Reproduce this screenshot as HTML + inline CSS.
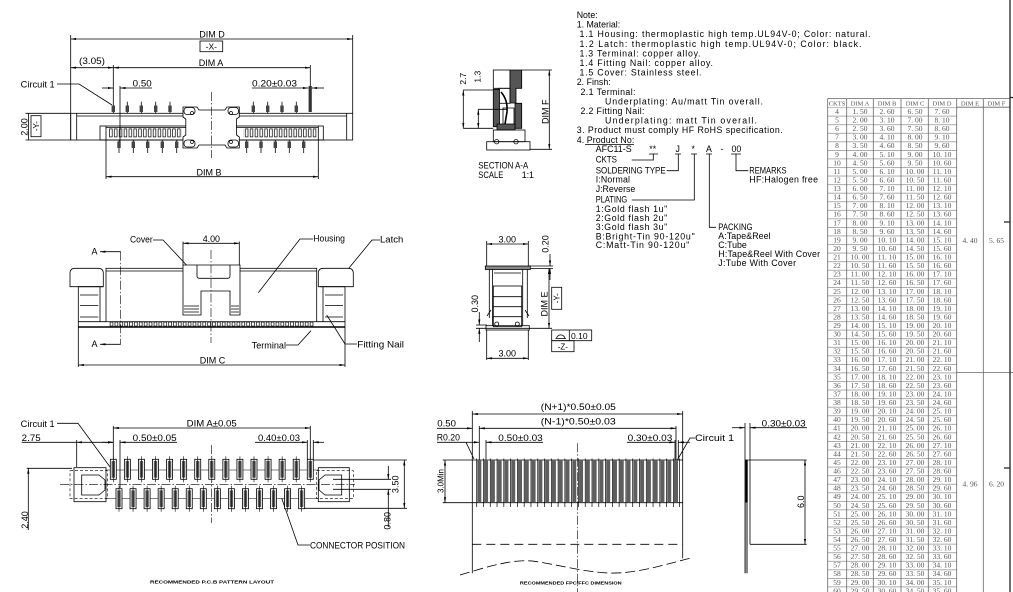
<!DOCTYPE html>
<html><head><meta charset="utf-8">
<style>
html,body{margin:0;padding:0;background:#fff;width:1013px;height:592px;overflow:hidden}
svg{display:block}
text{font-family:"Liberation Sans",Arial,sans-serif;fill:#000;stroke:none}
.l{font-size:9px}
.n{font-size:8.8px}
.m{text-anchor:middle}
.tb text{font-family:"Liberation Serif",serif;font-size:7.5px;fill:#555;text-anchor:middle}
.th text{font-size:6.5px}
.s{font-size:4.6px;font-weight:bold;text-anchor:middle}
</style></head><body>
<svg xmlns="http://www.w3.org/2000/svg" xmlns:xlink="http://www.w3.org/1999/xlink" width="1013" height="592" viewBox="0 0 1013 592">
<defs>
<marker id="a" viewBox="0 0 10 4" refX="10" refY="2" markerWidth="5.5" markerHeight="2.2" markerUnits="userSpaceOnUse" orient="auto-start-reverse"><path d="M0,0L10,2L0,4Z" fill="#000"/></marker>
<pattern id="hl" patternUnits="userSpaceOnUse" x="0" y="107.2" width="10" height="8.56"><rect x="0" y="0" width="10" height="0.7" fill="#8a8a8a"/></pattern>
<pattern id="c1" patternUnits="userSpaceOnUse" x="109" y="128.5" width="4.85" height="20"><rect x="0.6" y="0.4" width="2.6" height="8" fill="none" stroke="#000" stroke-width=".7"/></pattern>
<pattern id="c2" patternUnits="userSpaceOnUse" x="109.5" y="321.7" width="4.88" height="20"><rect x="0.6" y="0.4" width="2.8" height="4" fill="none" stroke="#000" stroke-width=".7"/></pattern>
<g id="pt"><line x1="0" y1="0" x2="0" y2="11.6" stroke="#000" stroke-width=".8"/><rect x="-1.7" y="3.8" width="3.4" height="6.5" fill="#444"/></g>
<g id="pb"><line x1="0" y1="0" x2="0" y2="13" stroke="#000" stroke-width=".8"/><rect x="-1.7" y="1.5" width="3.4" height="6.5" fill="#444"/></g>
<g id="pd"><rect x="-3" y="0" width="6" height="20" fill="#fff" stroke="#000" stroke-width=".8"/><rect x="-1.7" y="1.6" width="3.4" height="16.8" fill="#5a5a5a"/><line x1="0" y1="-3" x2="0" y2="23" stroke="#000" stroke-width=".6"/></g>
<g id="fs"><rect x="-2" y="0" width="4" height="42.7" fill="#5e5e5e"/><line x1="-2.6" y1="-1.5" x2="-2.6" y2="47" stroke="#000" stroke-width=".7"/></g>
</defs>

<g fill="none" stroke="#000" stroke-width=".8">
<!-- ===== VIEW 1 (top-left) ===== -->
<line x1="70.7" y1="39" x2="352.7" y2="39" marker-start="url(#a)" marker-end="url(#a)"/>
<path d="M70.7,35V140M352.7,35V113.3M113.3,65V102M310.3,65V86M57,84H79L112,105M120,86V147M106,140V179M318.3,140V179M25.5,113.3H70.7M25.5,140H70.7"/>
<rect x="200" y="41" width="22.7" height="10.7"/>
<line x1="70.7" y1="67.7" x2="113.3" y2="67.7" marker-start="url(#a)" marker-end="url(#a)"/>
<line x1="113.3" y1="67.7" x2="310.3" y2="67.7" marker-start="url(#a)" marker-end="url(#a)"/>
<line x1="102" y1="88" x2="113.3" y2="88" marker-end="url(#a)"/>
<line x1="152" y1="88" x2="120" y2="88" marker-end="url(#a)"/>
<line x1="252" y1="88" x2="308.3" y2="88" marker-end="url(#a)"/>
<line x1="324" y1="88" x2="311.7" y2="88" marker-end="url(#a)"/>
<line x1="106" y1="176.7" x2="318.3" y2="176.7" marker-start="url(#a)" marker-end="url(#a)"/>
<line x1="28.5" y1="113.3" x2="28.5" y2="140"/>
<rect x="31" y="115.7" width="10" height="21"/>
<rect x="70.7" y="113.3" width="282" height="26.7"/>
<path d="M76.7,113.3V140M346.7,113.3V140M76.7,116H346.7"/>
<rect x="100" y="126" width="223.3" height="14"/>
<path d="M106,127.6H318.3M106,126V140M318.3,126V140"/>
<rect x="109" y="128.5" width="73" height="9" fill="url(#c1)" stroke="none"/>
<rect x="243.5" y="128.5" width="73" height="9" fill="url(#c1)" stroke="none"/>
<path d="M183,107H197L199,110H225L227,107H239.3V117L236.5,119V135L239.3,137V148H227L225,145H199L197,148H183V137L185.8,135V119L183,117Z" fill="#fff"/>
<rect x="184" y="107.5" width="11" height="7" rx="3"/><rect x="228" y="107.5" width="10.5" height="7" rx="3"/>
<rect x="184" y="140" width="11" height="7" rx="3"/><rect x="228" y="140" width="10.5" height="7" rx="3"/>
<line x1="211.7" y1="92" x2="211.7" y2="158" stroke-dasharray="9 2 1.5 2" stroke-width=".6"/>
<rect x="308.6" y="86" width="3.2" height="26" fill="#333" stroke="none"/>

<!-- ===== VIEW 2 (middle-left) ===== -->
<path d="M153,240H163L203,282.7M313,239H300L258.3,292.7M380,240H372L343.3,275M286,345H298L311,330.7M357,344H345L326.7,315"/>
<line x1="183" y1="243.3" x2="239.3" y2="243.3" marker-start="url(#a)" marker-end="url(#a)"/>
<path d="M183,241.5V265M239.3,241.5V265"/>
<line x1="120.7" y1="251.7" x2="100" y2="251.7" marker-end="url(#a)"/>
<line x1="120.7" y1="344.3" x2="100" y2="344.3" marker-end="url(#a)"/>
<line x1="120.7" y1="251.7" x2="120.7" y2="344.3" stroke-dasharray="9 2 1.5 2" stroke-width=".6"/>
<rect x="106" y="268.3" width="210.7" height="53.4"/>
<path d="M106,271H316.7"/>
<path d="M70,286.7V273.3Q70,268.3 75,268.3H98.3Q103.3,268.3 103.3,273.3V286.7Z" fill="#fff"/>
<path d="M78.3,286.7V321.7H106M78.3,286.7H103.3M80,295H98.3M80,305.5H98.3M80,317H98.3M100,286.7V321.7"/>
<path d="M318.3,286.7V273.3Q318.3,268.3 323.3,268.3H348.3Q353.3,268.3 353.3,273.3V286.7Z" fill="#fff"/>
<path d="M345,286.7V321.7H316.7M320,286.7H345M325,295H343M325,305.5H343M325,317H343M323,286.7V321.7"/>
<path d="M183,265H240V315H230V291H201V315H183Z" fill="#fff"/>
<path d="M197,265V276Q197,278.3 199.5,278.3H227.5Q230,278.3 230,276V265M184,306H199M184,309H199M184,312H199M231,306H239M231,309H239M231,312H239"/>
<rect x="109.5" y="321.7" width="205" height="5" fill="url(#c2)" stroke="none"/>
<path d="M78.3,327H345" stroke-width="1.5"/>
<line x1="78.3" y1="365" x2="345" y2="365" marker-start="url(#a)" marker-end="url(#a)"/>
<path d="M78.3,322V367M345,322V367"/>
<line x1="211" y1="250" x2="211" y2="343" stroke-dasharray="9 2 1.5 2" stroke-width=".6"/>

<!-- ===== SECTION A-A ===== -->
<rect x="493.3" y="70" width="16.7" height="18.3"/>
<path d="M510,70H521.7V88.3H516V103H510Z" fill="#555"/>
<rect x="498.3" y="88.3" width="11.7" height="15"/>
<path d="M493.3,89.3H499.5V126.7H493.3Z" fill="#555"/>
<path d="M515,103.3H521.7V128.3H515Z" fill="#555"/>
<path d="M501,92Q508,100 507,112L505,124" stroke-width="1.6"/>
<path d="M503,108H514V125H503Z"/>
<path d="M497,124H515V130H497Z" fill="#555"/>
<rect x="493.3" y="130" width="31.7" height="11.7"/>
<rect x="486.7" y="141.7" width="43.3" height="8.3"/>
<circle cx="496.7" cy="141.7" r="2.2"/><circle cx="516" cy="141.7" r="2.2"/>
<path d="M463.3,90H493.3M478.3,109.3H506.7M463.3,128.3H493.3M521.7,70H552M530,149.3H552"/>
<line x1="463.3" y1="90" x2="463.3" y2="128.3" marker-start="url(#a)" marker-end="url(#a)"/>
<line x1="478.3" y1="109.3" x2="478.3" y2="128.3" marker-start="url(#a)" marker-end="url(#a)"/>
<line x1="549.3" y1="70" x2="549.3" y2="149.3" marker-start="url(#a)" marker-end="url(#a)"/>

<!-- product no leaders -->
<path d="M585,144.5H634M649,154H658M675,154H681M691,154H697M706,154H712M731,154H741M631.7,160H653.3V154M666.7,170.7H678.3V154M631.7,200H694.3V154M709.3,154V227.3H716M736,154V170.7H748.3"/>

<!-- ===== SIDE VIEW ===== -->
<line x1="486.7" y1="244" x2="528.3" y2="244" marker-start="url(#a)" marker-end="url(#a)"/>
<path d="M486.7,241V266M528.3,241V266M528,266H553M528,268.5H553"/>
<line x1="550" y1="254" x2="550" y2="266" marker-end="url(#a)"/>
<line x1="550" y1="280" x2="550" y2="268.5" marker-end="url(#a)"/>
<rect x="485.3" y="266" width="45" height="3.5" fill="#888"/>
<path d="M489.3,269.5V318M492.5,269.5V326M522.7,269.5V326M527.3,269.5V318"/>
<rect x="493.3" y="286" width="28.4" height="40.7"/>
<path d="M493.3,296.7H521.7M493.3,306.7H521.7M493.3,316.7H521.7M494,273H521M487,316L491,310M529,316L525,310"/>
<rect x="486" y="325.7" width="43.3" height="4.3"/>
<circle cx="496.7" cy="324" r="2"/><circle cx="517.3" cy="324" r="2"/>
<path d="M476,325H487M476,328.3H552"/>
<line x1="479.3" y1="312" x2="479.3" y2="325" marker-end="url(#a)"/>
<line x1="479.3" y1="342" x2="479.3" y2="328.3" marker-end="url(#a)"/>
<line x1="549" y1="268.5" x2="549" y2="328.3" marker-start="url(#a)" marker-end="url(#a)"/>
<rect x="551.7" y="287.3" width="10" height="22"/>
<rect x="551.7" y="330" width="40" height="10.7"/>
<path d="M569.3,330V340.7M555.5,338.5H566M556.5,338.5A4.3,4.3 0 0 1 565,338.5"/>
<rect x="551.7" y="340.7" width="22.3" height="11"/>
<line x1="486.7" y1="358.3" x2="528.3" y2="358.3" marker-start="url(#a)" marker-end="url(#a)"/>
<path d="M486.7,330V360M528.3,330V360"/>

<!-- ===== PCB LAYOUT ===== -->
<path d="M57,423.3H78L112.3,470M21.7,442.3H76.7M76.7,440V467M120,440V488M307.3,440V459M313.3,440V459M113.3,426V459M310.3,426V459M26.7,468.3H72M312,460H407M303,508.3H407M333,479.3H391M333,489.3H391"/>
<line x1="76.7" y1="442.3" x2="113.3" y2="442.3" marker-start="url(#a)" marker-end="url(#a)"/>
<line x1="102" y1="442.3" x2="113.3" y2="442.3" marker-end="url(#a)"/>
<line x1="177" y1="442.3" x2="120" y2="442.3" marker-end="url(#a)"/>
<line x1="255" y1="442.3" x2="307.3" y2="442.3" marker-end="url(#a)"/>
<line x1="324" y1="442.3" x2="313.3" y2="442.3" marker-end="url(#a)"/>
<line x1="113.3" y1="428" x2="310.3" y2="428" marker-start="url(#a)" marker-end="url(#a)"/>
<line x1="28.3" y1="468.3" x2="28.3" y2="530" marker-start="url(#a)"/>
<line x1="404.3" y1="460" x2="404.3" y2="508.3" marker-start="url(#a)" marker-end="url(#a)"/>
<line x1="388.3" y1="466" x2="388.3" y2="479.3" marker-end="url(#a)"/>
<line x1="388.3" y1="527" x2="388.3" y2="489.3" marker-end="url(#a)"/>
<path d="M106,470H318M106,498.5H318" stroke-width=".5"/>
<rect x="74" y="467.7" width="32" height="34"/>
<rect x="70" y="470.7" width="37.3" height="28" stroke-dasharray="3 2" stroke-width=".6"/>
<path d="M81.7,475H99L105,480V490L99,495H81.7Z"/>
<rect x="318.3" y="467.7" width="31" height="34"/>
<rect x="316.7" y="470.7" width="36.6" height="28" stroke-dasharray="3 2" stroke-width=".6"/>
<path d="M341.7,475H325L319,480V490L325,495H341.7Z"/>
<line x1="60" y1="484.3" x2="355" y2="484.3" stroke-dasharray="9 2 1.5 2" stroke-width=".6"/>
<line x1="211.7" y1="445" x2="211.7" y2="523" stroke-dasharray="9 2 1.5 2" stroke-width=".6"/>
<path d="M310,545H298L281.7,498.3"/>

<!-- ===== FPC ===== -->
<line x1="472.3" y1="414" x2="682.7" y2="414" marker-start="url(#a)" marker-end="url(#a)"/>
<line x1="479.3" y1="428.3" x2="676" y2="428.3" marker-start="url(#a)" marker-end="url(#a)"/>
<path d="M472.3,411V573.3M682.7,411V558.3M479.3,426V460M676,426V460M486,440V460M675,440V460M678.3,440V460M437,442.3H466L474,459M695,438H690L677.3,460"/>
<line x1="437" y1="428.3" x2="472.3" y2="428.3" marker-end="url(#a)"/>
<line x1="466" y1="442.3" x2="479.3" y2="442.3" marker-end="url(#a)"/>
<line x1="543" y1="442.3" x2="486" y2="442.3" marker-end="url(#a)"/>
<line x1="627" y1="442.3" x2="675" y2="442.3" marker-end="url(#a)"/>
<line x1="690" y1="442.3" x2="678.3" y2="442.3" marker-end="url(#a)"/>
<line x1="445" y1="460" x2="445" y2="502.7" marker-start="url(#a)" marker-end="url(#a)"/>
<path d="M442.7,460H682.7M442.7,502.7H682.7"/>
<line x1="472.3" y1="544.3" x2="682.7" y2="544.3" stroke-dasharray="9 5"/>
<path d="M460,575C490,566 515,558 537,561.7C565,566 595,575 623,572.7C650,570 670,563 690,558.3" stroke-dasharray="10 4"/>
<line x1="577.3" y1="443.3" x2="577.3" y2="592" stroke-dasharray="9 2 1.5 2" stroke-width=".6"/>
<!-- FPC side -->
<line x1="807" y1="427.7" x2="750" y2="427.7" marker-end="url(#a)"/>
<line x1="732" y1="427.7" x2="745" y2="427.7" marker-end="url(#a)"/>
<path d="M745,423V573.3M750,423V544.3M745,460H806.7M750,544.3H806.7"/>
<path d="M746.5,460V502.7" stroke-width="2.4"/>
<path d="M746.8,502.7V573.3" stroke="#888" stroke-width="2.4"/>
<line x1="805" y1="460" x2="805" y2="544.3" marker-start="url(#a)" marker-end="url(#a)"/>
</g>

<!-- pins view 1 -->
<use xlink:href="#pt" x="113.3" y="101.7"/><use xlink:href="#pt" x="127.3" y="101.7"/><use xlink:href="#pt" x="141.3" y="101.7"/><use xlink:href="#pt" x="155.7" y="101.7"/><use xlink:href="#pt" x="170" y="101.7"/>
<use xlink:href="#pt" x="253.3" y="101.7"/><use xlink:href="#pt" x="267.7" y="101.7"/><use xlink:href="#pt" x="282" y="101.7"/><use xlink:href="#pt" x="296.3" y="101.7"/>
<use xlink:href="#pb" x="119" y="140"/><use xlink:href="#pb" x="133.3" y="140"/><use xlink:href="#pb" x="147.7" y="140"/><use xlink:href="#pb" x="162.3" y="140"/><use xlink:href="#pb" x="176.7" y="140"/>
<use xlink:href="#pb" x="246.7" y="140"/><use xlink:href="#pb" x="261" y="140"/><use xlink:href="#pb" x="275.3" y="140"/><use xlink:href="#pb" x="289.3" y="140"/><use xlink:href="#pb" x="303.7" y="140"/>
<g fill="none" stroke="#000" stroke-width=".7"><circle cx="192" cy="113" r="1.5"/><circle cx="231" cy="113" r="1.5"/><circle cx="192" cy="142" r="1.5"/><circle cx="231" cy="142" r="1.5"/></g>

<!-- PCB pads -->
<use xlink:href="#pd" x="113.3" y="459.3"/><use xlink:href="#pd" x="127.37" y="459.3"/><use xlink:href="#pd" x="141.44" y="459.3"/><use xlink:href="#pd" x="155.51" y="459.3"/><use xlink:href="#pd" x="169.58" y="459.3"/><use xlink:href="#pd" x="183.65" y="459.3"/><use xlink:href="#pd" x="197.72" y="459.3"/><use xlink:href="#pd" x="211.79" y="459.3"/><use xlink:href="#pd" x="225.86" y="459.3"/><use xlink:href="#pd" x="239.93" y="459.3"/><use xlink:href="#pd" x="254" y="459.3"/><use xlink:href="#pd" x="268.07" y="459.3"/><use xlink:href="#pd" x="282.14" y="459.3"/><use xlink:href="#pd" x="296.21" y="459.3"/><use xlink:href="#pd" x="310.28" y="459.3"/>
<use xlink:href="#pd" x="119" y="488.7"/><use xlink:href="#pd" x="133.05" y="488.7"/><use xlink:href="#pd" x="147.1" y="488.7"/><use xlink:href="#pd" x="161.15" y="488.7"/><use xlink:href="#pd" x="175.2" y="488.7"/><use xlink:href="#pd" x="189.25" y="488.7"/><use xlink:href="#pd" x="203.3" y="488.7"/><use xlink:href="#pd" x="217.35" y="488.7"/><use xlink:href="#pd" x="231.4" y="488.7"/><use xlink:href="#pd" x="245.45" y="488.7"/><use xlink:href="#pd" x="259.5" y="488.7"/><use xlink:href="#pd" x="273.55" y="488.7"/><use xlink:href="#pd" x="287.6" y="488.7"/><use xlink:href="#pd" x="301.65" y="488.7"/>

<!-- FPC strips -->
<use xlink:href="#fs" x="479.3" y="460"/><use xlink:href="#fs" x="486.08" y="460"/><use xlink:href="#fs" x="492.87" y="460"/><use xlink:href="#fs" x="499.65" y="460"/><use xlink:href="#fs" x="506.43" y="460"/><use xlink:href="#fs" x="513.22" y="460"/><use xlink:href="#fs" x="520" y="460"/><use xlink:href="#fs" x="526.78" y="460"/><use xlink:href="#fs" x="533.56" y="460"/><use xlink:href="#fs" x="540.35" y="460"/><use xlink:href="#fs" x="547.13" y="460"/><use xlink:href="#fs" x="553.91" y="460"/><use xlink:href="#fs" x="560.7" y="460"/><use xlink:href="#fs" x="567.48" y="460"/><use xlink:href="#fs" x="574.26" y="460"/><use xlink:href="#fs" x="581.05" y="460"/><use xlink:href="#fs" x="587.83" y="460"/><use xlink:href="#fs" x="594.61" y="460"/><use xlink:href="#fs" x="601.39" y="460"/><use xlink:href="#fs" x="608.18" y="460"/><use xlink:href="#fs" x="614.96" y="460"/><use xlink:href="#fs" x="621.74" y="460"/><use xlink:href="#fs" x="628.53" y="460"/><use xlink:href="#fs" x="635.31" y="460"/><use xlink:href="#fs" x="642.09" y="460"/><use xlink:href="#fs" x="648.88" y="460"/><use xlink:href="#fs" x="655.66" y="460"/><use xlink:href="#fs" x="662.44" y="460"/><use xlink:href="#fs" x="669.22" y="460"/><use xlink:href="#fs" x="676" y="460"/>
<line x1="679.4" y1="458.5" x2="679.4" y2="507" stroke="#000" stroke-width=".7"/>

<!-- ===== LABELS ===== -->
<g class="l">
<text x="212" y="37.6" class="m">DIM D</text>
<text x="211.3" y="49.5" class="m" style="font-size:8.5px">-X-</text>
<text x="79" y="63.8" textLength="26" lengthAdjust="spacingAndGlyphs">(3.05)</text>
<text x="211" y="65.8" class="m">DIM A</text>
<text x="20.7" y="87.3" textLength="34" lengthAdjust="spacingAndGlyphs">Circuit 1</text>
<text x="132.7" y="86.5" textLength="19" lengthAdjust="spacingAndGlyphs">0.50</text>
<text x="252" y="86.5" textLength="45" lengthAdjust="spacingAndGlyphs">0.20±0.03</text>
<text x="209" y="175.3" class="m">DIM B</text>
<text transform="translate(27.5,127) rotate(-90)" class="m">2.00</text>
<text transform="translate(39,126.2) rotate(-90)" class="m" style="font-size:8px">-Y-</text>

<text x="130" y="242.7" textLength="22.7" lengthAdjust="spacingAndGlyphs">Cover</text>
<text x="202.7" y="242" textLength="17.3" lengthAdjust="spacingAndGlyphs">4.00</text>
<text x="313.3" y="241.4" textLength="31.7" lengthAdjust="spacingAndGlyphs">Housing</text>
<text x="380" y="242.7" textLength="23.3" lengthAdjust="spacingAndGlyphs">Latch</text>
<text x="91.5" y="254.5">A</text>
<text x="91.5" y="347.2">A</text>
<text x="251.7" y="348.5" textLength="34.3" lengthAdjust="spacingAndGlyphs">Terminal</text>
<text x="357.3" y="347.3" textLength="46.7" lengthAdjust="spacingAndGlyphs">Fitting Nail</text>
<text x="212.5" y="363.4" class="m">DIM C</text>

<text transform="translate(466,78.7) rotate(-90)" class="m" style="font-size:8.5px">2.7</text>
<text transform="translate(480.5,76.7) rotate(-90)" class="m" style="font-size:8.5px">1.3</text>
<text transform="translate(548.5,111.7) rotate(-90)" class="m">DIM F</text>

<text x="507.3" y="242.5" class="m">3.00</text>
<text transform="translate(548.5,244) rotate(-90)" class="m">0.20</text>
<text transform="translate(478,303.7) rotate(-90)" class="m">0.30</text>
<text transform="translate(547.5,304) rotate(-90)" class="m">DIM E</text>
<text transform="translate(559.6,298.3) rotate(-90)" class="m" style="font-size:8px">-Y-</text>
<text x="571" y="338.8" style="font-size:8.5px">0.10</text>
<text x="562.8" y="349.3" class="m" style="font-size:8px">-Z-</text>
<text x="507.3" y="356.3" class="m">3.00</text>

<text x="20.7" y="427.2" textLength="34" lengthAdjust="spacingAndGlyphs">Circuit 1</text>
<text x="21.7" y="440.8" textLength="19" lengthAdjust="spacingAndGlyphs">2.75</text>
<text x="211.7" y="426.3" class="m" textLength="50" lengthAdjust="spacingAndGlyphs">DIM A±0.05</text>
<text x="132.7" y="440.8" textLength="44" lengthAdjust="spacingAndGlyphs">0.50±0.05</text>
<text x="258" y="440.8" textLength="42" lengthAdjust="spacingAndGlyphs">0.40±0.03</text>
<text transform="translate(28,520) rotate(-90)" class="m">2.40</text>
<text transform="translate(398.3,484.3) rotate(-90)" class="m">3.50</text>
<text transform="translate(390.3,520.8) rotate(-90)" class="m">0.80</text>
<text x="310" y="548.3" textLength="95" lengthAdjust="spacingAndGlyphs">CONNECTOR POSITION</text>

<text x="578.3" y="410" class="m" textLength="75" lengthAdjust="spacingAndGlyphs">(N+1)*0.50±0.05</text>
<text x="578.3" y="424.4" class="m" textLength="75" lengthAdjust="spacingAndGlyphs">(N-1)*0.50±0.03</text>
<text x="437.3" y="426.6" textLength="18.7" lengthAdjust="spacingAndGlyphs">0.50</text>
<text x="436.7" y="440.6" textLength="23.3" lengthAdjust="spacingAndGlyphs">R0.20</text>
<text x="498.3" y="440.8" textLength="44.4" lengthAdjust="spacingAndGlyphs">0.50±0.03</text>
<text x="627.7" y="440.8" textLength="44.6" lengthAdjust="spacingAndGlyphs">0.30±0.03</text>
<text x="695" y="440.8" textLength="39" lengthAdjust="spacingAndGlyphs">Circuit 1</text>
<text transform="translate(443.5,481) rotate(-90)" class="m" style="font-size:8px">3.0Min</text>
<text x="761.7" y="426.4" textLength="44" lengthAdjust="spacingAndGlyphs">0.30±0.03</text>
<text transform="translate(804,501.7) rotate(-90)" class="m">6.0</text>
</g>
<text x="212" y="583.5" class="s" textLength="124" lengthAdjust="spacingAndGlyphs">RECOMMENDED P.C.B PATTERN LAYOUT</text>
<text x="570.8" y="584.7" class="s" textLength="101.7" lengthAdjust="spacingAndGlyphs">RECOMMENDED FPC/FFC DIMENSION</text>

<!-- ===== NOTES ===== -->
<g class="n">
<text x="576.7" y="18">Note:</text>
<text x="576.7" y="27.6" textLength="43.5" lengthAdjust="spacing">1. Material:</text>
<text x="579.5" y="37.2" textLength="291" lengthAdjust="spacing">1.1 Housing: thermoplastic high temp.UL94V-0; Color: natural.</text>
<text x="579.5" y="46.8" textLength="282" lengthAdjust="spacing">1.2 Latch: thermoplastic high temp.UL94V-0; Color: black.</text>
<text x="579.5" y="56.4" textLength="121" lengthAdjust="spacing">1.3 Terminal: copper alloy.</text>
<text x="579.5" y="66" textLength="133.5" lengthAdjust="spacing">1.4 Fitting Nail: copper alloy.</text>
<text x="579.5" y="75.6" textLength="122" lengthAdjust="spacing">1.5 Cover: Stainless steel.</text>
<text x="576.7" y="85.2" textLength="34" lengthAdjust="spacing">2. Finsh:</text>
<text x="580.5" y="94.8" textLength="55" lengthAdjust="spacing">2.1 Terminal:</text>
<text x="580.5" y="114" textLength="64" lengthAdjust="spacing">2.2 Fitting Nail:</text>
<text x="605" y="104.4" textLength="158" lengthAdjust="spacing">Underplating: Au/matt Tin overall.</text>
<text x="605" y="123.6" textLength="152" lengthAdjust="spacing">Underplating: matt Tin overall.</text>
<text x="576.7" y="133.2" textLength="206" lengthAdjust="spacing">3. Product must comply HF RoHS specification.</text>
<text x="576.7" y="142.8" textLength="57.6" lengthAdjust="spacing">4. Product No:</text>
<text x="595.7" y="152.2" textLength="36" lengthAdjust="spacingAndGlyphs">AFC11-S</text>
<text x="649.3" y="152.2">**</text>
<text x="675.5" y="152.2">J</text>
<text x="691.5" y="152.2">*</text>
<text x="706" y="152.2">A</text>
<text x="720.5" y="152.2">-</text>
<text x="731.5" y="152.2">00</text>
<text x="595.7" y="162.6" textLength="21.3" lengthAdjust="spacingAndGlyphs">CKTS</text>
<text x="595.7" y="173.4" textLength="70" lengthAdjust="spacingAndGlyphs">SOLDERING TYPE</text>
<text x="595.7" y="182.7" textLength="34.3" lengthAdjust="spacing">I:Normal</text>
<text x="595.7" y="192" textLength="39.6" lengthAdjust="spacing">J:Reverse</text>
<text x="595.7" y="202.7" textLength="31.6" lengthAdjust="spacingAndGlyphs">PLATING</text>
<text x="595.7" y="212" textLength="71.6" lengthAdjust="spacing">1:Gold flash 1u"</text>
<text x="595.7" y="221" textLength="71.6" lengthAdjust="spacing">2:Gold flash 2u"</text>
<text x="595.7" y="230" textLength="71.6" lengthAdjust="spacing">3:Gold flash 3u"</text>
<text x="595.7" y="239.4" textLength="99" lengthAdjust="spacing">B:Bright-Tin 90-120u"</text>
<text x="595.7" y="248.2" textLength="93.6" lengthAdjust="spacing">C:Matt-Tin 90-120u"</text>
<text x="749.3" y="173.4" textLength="37.3" lengthAdjust="spacingAndGlyphs">REMARKS</text>
<text x="749.3" y="182.7" textLength="68.7" lengthAdjust="spacing">HF:Halogen free</text>
<text x="718.3" y="230" textLength="34.3" lengthAdjust="spacingAndGlyphs">PACKING</text>
<text x="718.3" y="239" textLength="52.3" lengthAdjust="spacing">A:Tape&amp;Reel</text>
<text x="718.3" y="248">C:Tube</text>
<text x="718.3" y="257" textLength="101.7" lengthAdjust="spacing">H:Tape&amp;Reel With Cover</text>
<text x="718.3" y="266" textLength="77.7" lengthAdjust="spacing">J:Tube With Cover</text>
<text x="478.3" y="168.5" textLength="50" lengthAdjust="spacingAndGlyphs">SECTION A-A</text>
<text x="478.3" y="178" textLength="25" lengthAdjust="spacingAndGlyphs">SCALE</text>
<text x="521.7" y="178">1:1</text>
</g>

<!-- ===== TABLE ===== -->
<rect x="827.7" y="107.2" width="129" height="485" fill="url(#hl)"/>
<path d="M827.7,98.6H1010M827.7,98.6V592M846.7,98.6V592M873.3,98.6V592M901,98.6V592M928.3,98.6V592M956.7,98.6V592M983.3,98.6V592M956.7,107.2H1010M956.7,372.6H1013" fill="none" stroke="#666" stroke-width=".8"/>
<path d="M1010,0V592M1010,97.5H1013M1004,222H1010M1004,468H1010" fill="none" stroke="#222" stroke-width="1.3"/>
<g class="tb">
<g class="th"><text y="105.3"><tspan x="837">CKTS</tspan><tspan x="860">DIM A</tspan><tspan x="887">DIM B</tspan><tspan x="915">DIM C</tspan><tspan x="942">DIM D</tspan><tspan x="970">DIM E</tspan><tspan x="996.5">DIM F</tspan></text></g>
<text y="243"><tspan x="970">4. 40</tspan><tspan x="996.5">5. 65</tspan></text>
<text y="486.5"><tspan x="970">4. 96</tspan><tspan x="996.5">6. 20</tspan></text>
<text y="114"><tspan x="837">4</tspan><tspan x="860">1. 50</tspan><tspan x="887">2. 60</tspan><tspan x="915">6. 50</tspan><tspan x="942">7. 60</tspan></text>
<text y="122.56"><tspan x="837">5</tspan><tspan x="860">2. 00</tspan><tspan x="887">3. 10</tspan><tspan x="915">7. 00</tspan><tspan x="942">8. 10</tspan></text>
<text y="131.12"><tspan x="837">6</tspan><tspan x="860">2. 50</tspan><tspan x="887">3. 60</tspan><tspan x="915">7. 50</tspan><tspan x="942">8. 60</tspan></text>
<text y="139.68"><tspan x="837">7</tspan><tspan x="860">3. 00</tspan><tspan x="887">4. 10</tspan><tspan x="915">8. 00</tspan><tspan x="942">9. 10</tspan></text>
<text y="148.24"><tspan x="837">8</tspan><tspan x="860">3. 50</tspan><tspan x="887">4. 60</tspan><tspan x="915">8. 50</tspan><tspan x="942">9. 60</tspan></text>
<text y="156.8"><tspan x="837">9</tspan><tspan x="860">4. 00</tspan><tspan x="887">5. 10</tspan><tspan x="915">9. 00</tspan><tspan x="942">10. 10</tspan></text>
<text y="165.36"><tspan x="837">10</tspan><tspan x="860">4. 50</tspan><tspan x="887">5. 60</tspan><tspan x="915">9. 50</tspan><tspan x="942">10. 60</tspan></text>
<text y="173.92"><tspan x="837">11</tspan><tspan x="860">5. 00</tspan><tspan x="887">6. 10</tspan><tspan x="915">10. 00</tspan><tspan x="942">11. 10</tspan></text>
<text y="182.48"><tspan x="837">12</tspan><tspan x="860">5. 50</tspan><tspan x="887">6. 60</tspan><tspan x="915">10. 50</tspan><tspan x="942">11. 60</tspan></text>
<text y="191.04"><tspan x="837">13</tspan><tspan x="860">6. 00</tspan><tspan x="887">7. 10</tspan><tspan x="915">11. 00</tspan><tspan x="942">12. 10</tspan></text>
<text y="199.6"><tspan x="837">14</tspan><tspan x="860">6. 50</tspan><tspan x="887">7. 60</tspan><tspan x="915">11. 50</tspan><tspan x="942">12. 60</tspan></text>
<text y="208.16"><tspan x="837">15</tspan><tspan x="860">7. 00</tspan><tspan x="887">8. 10</tspan><tspan x="915">12. 00</tspan><tspan x="942">13. 10</tspan></text>
<text y="216.72"><tspan x="837">16</tspan><tspan x="860">7. 50</tspan><tspan x="887">8. 60</tspan><tspan x="915">12. 50</tspan><tspan x="942">13. 60</tspan></text>
<text y="225.28"><tspan x="837">17</tspan><tspan x="860">8. 00</tspan><tspan x="887">9. 10</tspan><tspan x="915">13. 00</tspan><tspan x="942">14. 10</tspan></text>
<text y="233.84"><tspan x="837">18</tspan><tspan x="860">8. 50</tspan><tspan x="887">9. 60</tspan><tspan x="915">13. 50</tspan><tspan x="942">14. 60</tspan></text>
<text y="242.4"><tspan x="837">19</tspan><tspan x="860">9. 00</tspan><tspan x="887">10. 10</tspan><tspan x="915">14. 00</tspan><tspan x="942">15. 10</tspan></text>
<text y="250.96"><tspan x="837">20</tspan><tspan x="860">9. 50</tspan><tspan x="887">10. 60</tspan><tspan x="915">14. 50</tspan><tspan x="942">15. 60</tspan></text>
<text y="259.52"><tspan x="837">21</tspan><tspan x="860">10. 00</tspan><tspan x="887">11. 10</tspan><tspan x="915">15. 00</tspan><tspan x="942">16. 10</tspan></text>
<text y="268.08"><tspan x="837">22</tspan><tspan x="860">10. 50</tspan><tspan x="887">11. 60</tspan><tspan x="915">15. 50</tspan><tspan x="942">16. 60</tspan></text>
<text y="276.64"><tspan x="837">23</tspan><tspan x="860">11. 00</tspan><tspan x="887">12. 10</tspan><tspan x="915">16. 00</tspan><tspan x="942">17. 10</tspan></text>
<text y="285.2"><tspan x="837">24</tspan><tspan x="860">11. 50</tspan><tspan x="887">12. 60</tspan><tspan x="915">16. 50</tspan><tspan x="942">17. 60</tspan></text>
<text y="293.76"><tspan x="837">25</tspan><tspan x="860">12. 00</tspan><tspan x="887">13. 10</tspan><tspan x="915">17. 00</tspan><tspan x="942">18. 10</tspan></text>
<text y="302.32"><tspan x="837">26</tspan><tspan x="860">12. 50</tspan><tspan x="887">13. 60</tspan><tspan x="915">17. 50</tspan><tspan x="942">18. 60</tspan></text>
<text y="310.88"><tspan x="837">27</tspan><tspan x="860">13. 00</tspan><tspan x="887">14. 10</tspan><tspan x="915">18. 00</tspan><tspan x="942">19. 10</tspan></text>
<text y="319.44"><tspan x="837">28</tspan><tspan x="860">13. 50</tspan><tspan x="887">14. 60</tspan><tspan x="915">18. 50</tspan><tspan x="942">19. 60</tspan></text>
<text y="328"><tspan x="837">29</tspan><tspan x="860">14. 00</tspan><tspan x="887">15. 10</tspan><tspan x="915">19. 00</tspan><tspan x="942">20. 10</tspan></text>
<text y="336.56"><tspan x="837">30</tspan><tspan x="860">14. 50</tspan><tspan x="887">15. 60</tspan><tspan x="915">19. 50</tspan><tspan x="942">20. 60</tspan></text>
<text y="345.12"><tspan x="837">31</tspan><tspan x="860">15. 00</tspan><tspan x="887">16. 10</tspan><tspan x="915">20. 00</tspan><tspan x="942">21. 10</tspan></text>
<text y="353.68"><tspan x="837">32</tspan><tspan x="860">15. 50</tspan><tspan x="887">16. 60</tspan><tspan x="915">20. 50</tspan><tspan x="942">21. 60</tspan></text>
<text y="362.24"><tspan x="837">33</tspan><tspan x="860">16. 00</tspan><tspan x="887">17. 10</tspan><tspan x="915">21. 00</tspan><tspan x="942">22. 10</tspan></text>
<text y="370.8"><tspan x="837">34</tspan><tspan x="860">16. 50</tspan><tspan x="887">17. 60</tspan><tspan x="915">21. 50</tspan><tspan x="942">22. 60</tspan></text>
<text y="379.36"><tspan x="837">35</tspan><tspan x="860">17. 00</tspan><tspan x="887">18. 10</tspan><tspan x="915">22. 00</tspan><tspan x="942">23. 10</tspan></text>
<text y="387.92"><tspan x="837">36</tspan><tspan x="860">17. 50</tspan><tspan x="887">18. 60</tspan><tspan x="915">22. 50</tspan><tspan x="942">23. 60</tspan></text>
<text y="396.48"><tspan x="837">37</tspan><tspan x="860">18. 00</tspan><tspan x="887">19. 10</tspan><tspan x="915">23. 00</tspan><tspan x="942">24. 10</tspan></text>
<text y="405.04"><tspan x="837">38</tspan><tspan x="860">18. 50</tspan><tspan x="887">19. 60</tspan><tspan x="915">23. 50</tspan><tspan x="942">24. 60</tspan></text>
<text y="413.6"><tspan x="837">39</tspan><tspan x="860">19. 00</tspan><tspan x="887">20. 10</tspan><tspan x="915">24. 00</tspan><tspan x="942">25. 10</tspan></text>
<text y="422.16"><tspan x="837">40</tspan><tspan x="860">19. 50</tspan><tspan x="887">20. 60</tspan><tspan x="915">24. 50</tspan><tspan x="942">25. 60</tspan></text>
<text y="430.72"><tspan x="837">41</tspan><tspan x="860">20. 00</tspan><tspan x="887">21. 10</tspan><tspan x="915">25. 00</tspan><tspan x="942">26. 10</tspan></text>
<text y="439.28"><tspan x="837">42</tspan><tspan x="860">20. 50</tspan><tspan x="887">21. 60</tspan><tspan x="915">25. 50</tspan><tspan x="942">26. 60</tspan></text>
<text y="447.84"><tspan x="837">43</tspan><tspan x="860">21. 00</tspan><tspan x="887">22. 10</tspan><tspan x="915">26. 00</tspan><tspan x="942">27. 10</tspan></text>
<text y="456.4"><tspan x="837">44</tspan><tspan x="860">21. 50</tspan><tspan x="887">22. 60</tspan><tspan x="915">26. 50</tspan><tspan x="942">27. 60</tspan></text>
<text y="464.96"><tspan x="837">45</tspan><tspan x="860">22. 00</tspan><tspan x="887">23. 10</tspan><tspan x="915">27. 00</tspan><tspan x="942">28. 10</tspan></text>
<text y="473.52"><tspan x="837">46</tspan><tspan x="860">22. 50</tspan><tspan x="887">23. 60</tspan><tspan x="915">27. 50</tspan><tspan x="942">28. 60</tspan></text>
<text y="482.08"><tspan x="837">47</tspan><tspan x="860">23. 00</tspan><tspan x="887">24. 10</tspan><tspan x="915">28. 00</tspan><tspan x="942">29. 10</tspan></text>
<text y="490.64"><tspan x="837">48</tspan><tspan x="860">23. 50</tspan><tspan x="887">24. 60</tspan><tspan x="915">28. 50</tspan><tspan x="942">29. 60</tspan></text>
<text y="499.2"><tspan x="837">49</tspan><tspan x="860">24. 00</tspan><tspan x="887">25. 10</tspan><tspan x="915">29. 00</tspan><tspan x="942">30. 10</tspan></text>
<text y="507.76"><tspan x="837">50</tspan><tspan x="860">24. 50</tspan><tspan x="887">25. 60</tspan><tspan x="915">29. 50</tspan><tspan x="942">30. 60</tspan></text>
<text y="516.32"><tspan x="837">51</tspan><tspan x="860">25. 00</tspan><tspan x="887">26. 10</tspan><tspan x="915">30. 00</tspan><tspan x="942">31. 10</tspan></text>
<text y="524.88"><tspan x="837">52</tspan><tspan x="860">25. 50</tspan><tspan x="887">26. 60</tspan><tspan x="915">30. 50</tspan><tspan x="942">31. 60</tspan></text>
<text y="533.44"><tspan x="837">53</tspan><tspan x="860">26. 00</tspan><tspan x="887">27. 10</tspan><tspan x="915">31. 00</tspan><tspan x="942">32. 10</tspan></text>
<text y="542"><tspan x="837">54</tspan><tspan x="860">26. 50</tspan><tspan x="887">27. 60</tspan><tspan x="915">31. 50</tspan><tspan x="942">32. 60</tspan></text>
<text y="550.56"><tspan x="837">55</tspan><tspan x="860">27. 00</tspan><tspan x="887">28. 10</tspan><tspan x="915">32. 00</tspan><tspan x="942">33. 10</tspan></text>
<text y="559.12"><tspan x="837">56</tspan><tspan x="860">27. 50</tspan><tspan x="887">28. 60</tspan><tspan x="915">32. 50</tspan><tspan x="942">33. 60</tspan></text>
<text y="567.68"><tspan x="837">57</tspan><tspan x="860">28. 00</tspan><tspan x="887">29. 10</tspan><tspan x="915">33. 00</tspan><tspan x="942">34. 10</tspan></text>
<text y="576.24"><tspan x="837">58</tspan><tspan x="860">28. 50</tspan><tspan x="887">29. 60</tspan><tspan x="915">33. 50</tspan><tspan x="942">34. 60</tspan></text>
<text y="584.8"><tspan x="837">59</tspan><tspan x="860">29. 00</tspan><tspan x="887">30. 10</tspan><tspan x="915">34. 00</tspan><tspan x="942">35. 10</tspan></text>
<text y="593.36"><tspan x="837">60</tspan><tspan x="860">29. 50</tspan><tspan x="887">30. 60</tspan><tspan x="915">34. 50</tspan><tspan x="942">35. 60</tspan></text>
</g>
</svg>
</body></html>
